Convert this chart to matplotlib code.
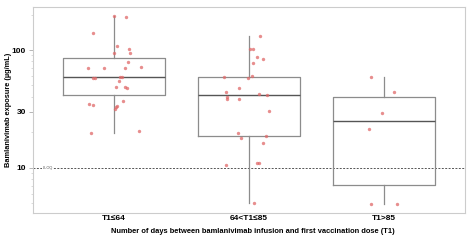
import matplotlib
matplotlib.use("Agg")
import matplotlib.pyplot as plt
from matplotlib.ticker import LogLocator, FixedLocator, NullFormatter, FixedFormatter

plt.rcParams['font.family'] = ['Liberation Sans', 'DejaVu Sans']

categories = ["T1\u226464", "64<T1\u226485", "T1>85"]

g1_values = [194, 192, 139, 108, 103, 95, 93.7, 79, 69.9, 69.9, 69.9, 71.7, 59.3, 59, 57.4,
             57.4, 54.2, 48.7, 48.7, 47.2, 36.9, 34.8, 33.9, 33.4, 32.6, 31.7, 19.6, 20.4]
g1_jitter = [0, 0.087, -0.158, 0.024, 0.111, 0, 0.119, 0.101, -0.193, -0.076, 0.081, 0.198,
             0.044, 0.057, -0.153, -0.141, 0.035, 0.015, 0.081, 0.094, 0.069, -0.183, -0.153,
             0.024, 0.015, 0.007, -0.173, 0.185]

g2_values = [131.5, 102.6, 102.6, 87.7, 83.3, 77.1, 58.6, 57.4, 60.1, 47.8, 44.2, 39.7, 38.3,
             38.3, 42.3, 41.2, 30.1, 19.6, 17.8, 18.7, 16.3, 11.0, 11.0, 10.5, 4.98]
g2_jitter = [0.084, 0.007, 0.027, 0.057, 0.101, 0.027, -0.185, -0.005, 0.02, -0.072, -0.173,
             -0.165, -0.165, -0.074, 0.076, 0.131, 0.146, -0.084, -0.061, 0.124, 0.106, 0.057,
             0.074, -0.170, 0.035]

g3_values = [59.3, 44.2, 29.0, 21.2, 4.92, 4.92]
g3_jitter = [-0.096, 0.074, -0.017, -0.111, -0.096, 0.094]

# box statistics
box_q1 = [41.5, 18.7, 7.09]
box_median = [59.3, 41.2, 24.9]
box_q3 = [86.0, 59.3, 39.6]
box_whislo = [19.8, 4.98, 4.92]
box_whishi = [195.5, 131.5, 59.3]

lloq = 10
y_ticks = [10, 30, 100]
x_label = "Number of days between bamlanivimab infusion and first vaccination dose (T1)"
y_label = "Bamlanivimab exposure (\u00b5g/mL)"

fig = plt.figure(figsize=(4.74, 2.42), dpi=100)
ax = fig.add_axes([0.0696, 0.12, 0.9114, 0.851])

stats = []
for i in range(3):
    stats.append(dict(med=box_median[i], q1=box_q1[i], q3=box_q3[i],
                      whislo=box_whislo[i], whishi=box_whishi[i], fliers=[]))

grey = "#8c8c8c"
ax.bxp(stats, positions=[0, 1, 2], widths=0.755, showfliers=False, showcaps=False,
       boxprops=dict(color=grey, linewidth=0.9),
       whiskerprops=dict(color=grey, linewidth=0.9),
       medianprops=dict(color="#555555", linewidth=1.0),
       zorder=2)

for i, (vals, jit) in enumerate([(g1_values, g1_jitter), (g2_values, g2_jitter), (g3_values, g3_jitter)]):
    xs = [i + j for j in jit]
    ax.scatter(xs, vals, s=6, color="#e06868", alpha=0.75, linewidths=0, zorder=3)

ax.axhline(lloq, color="#555555", linestyle=(0, (2, 1.5)), linewidth=0.7, zorder=1)
ax.text(-0.53, lloq, "LLOQ", fontsize=2.8, color="#555555", va="center", ha="left",
        bbox=dict(facecolor="white", edgecolor="none", pad=0.2), zorder=2)

ax.set_yscale("log")
ax.set_ylim(4.12, 232)
ax.set_xlim(-0.6, 2.6)

ax.yaxis.set_major_locator(FixedLocator(y_ticks))
ax.yaxis.set_major_formatter(FixedFormatter([str(t) for t in y_ticks]))
ax.yaxis.set_minor_locator(LogLocator(base=10, subs=[2, 3, 4, 5, 6, 7, 8, 9], numticks=20))
ax.yaxis.set_minor_formatter(NullFormatter())

ax.set_xticks([0, 1, 2])
ax.set_xticklabels(categories, fontsize=6.0, fontweight="bold")
for lab in ax.get_yticklabels():
    lab.set_fontsize(6.0)
    lab.set_fontweight("bold")

ax.tick_params(axis="y", which="major", length=3, width=0.6, color="#aaaaaa", pad=2)
ax.tick_params(axis="y", which="minor", length=1.5, width=0.5, color="#cccccc")
ax.tick_params(axis="x", length=0, pad=1.5)

for sp in ax.spines.values():
    sp.set_color("#cccccc")
    sp.set_linewidth(0.8)

ax.set_ylabel(y_label, fontsize=5.3, fontweight="bold")
ax.yaxis.set_label_coords(-0.056, 0.5)
ax.set_xlabel(x_label, fontsize=5.4, fontweight="bold")
ax.xaxis.set_label_coords(0.51, -0.092)
ax.xaxis.label.set_va("center")
ax.yaxis.label.set_va("center")

fig.savefig("out.png", dpi=100)
